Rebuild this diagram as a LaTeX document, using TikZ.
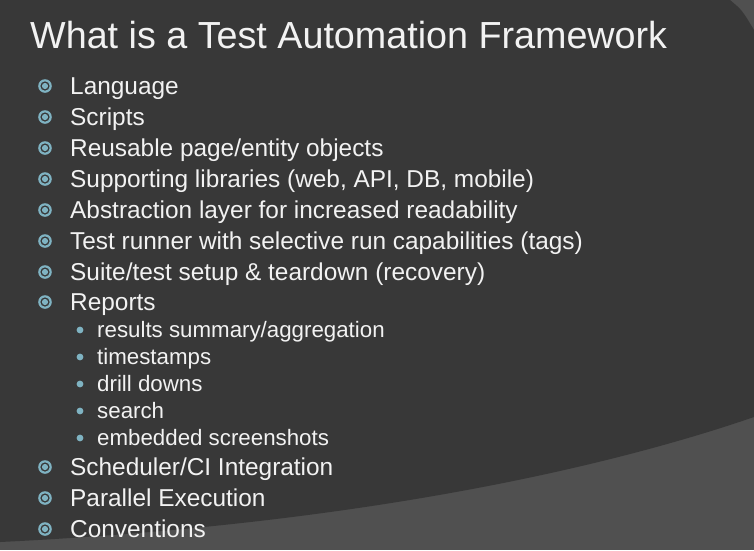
\documentclass[tikz,border=0pt]{standalone}
\usepackage{fontspec}
\setmainfont{Liberation Sans}
\definecolor{bgl}{HTML}{505050}
\definecolor{bgd}{HTML}{383838}
\definecolor{teal}{HTML}{7FB3C2}
\definecolor{txt}{HTML}{F2F2F2}
\tikzset{
 item/.style={anchor=base west,inner sep=0,text=txt,font=\fontsize{24.4}{28}\selectfont},
 sub/.style={anchor=base west,inner sep=0,text=txt,font=\fontsize{22.3}{25}\selectfont},
}
\begin{document}
\begin{tikzpicture}[x=1pt,y=-1pt]
\fill[bgl] (0,0) rectangle (754,550);
\useasboundingbox (0,0) rectangle (754,550);
\fill[bgd] (0,0) -- (730,0) .. controls (742,10) .. (754,30) -- (754,417) .. controls (600,470) and (350,525) .. (0,542) -- cycle;
\node[anchor=base west,inner sep=0,text=txt,font=\fontsize{37.7}{42}\selectfont] (title) at (30,48) {What is a Test Automation Framework};
\foreach \y/\t [count=\i] in {86/{Language},117/{Scripts},148/{Reusable page/entity objects},179/{Supporting libraries (web, API, DB, mobile)},210/{Abstraction layer for increased readability},241/{Test runner with selective run capabilities (tags)},272/{Suite/test setup \& teardown (recovery)},302/{Reports},467/{Scheduler/CI Integration},498/{Parallel Execution},529/{Conventions}}{
 \fill[teal] (45,\y) circle (6.8);
 \fill[bgd] (45,\y) circle (4.6);
 \fill[teal] (45,\y) circle (3.1);
 \node[item] (i\i) at (70,\y+8.5) {\t};
}
\foreach \y/\t [count=\i] in {330/{results summary/aggregation},357/{timestamps},384/{drill downs},411/{search},438/{embedded screenshots}}{
 \fill[teal] (80,\y) circle (3.4);
 \node[sub] (s\i) at (97,\y+7.5) {\t};
}
\end{tikzpicture}
\end{document}
